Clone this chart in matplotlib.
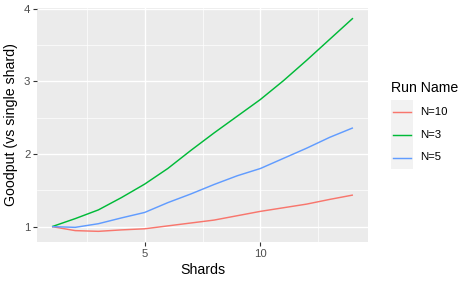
import matplotlib
matplotlib.use("Agg")
import matplotlib.pyplot as plt
from matplotlib.patches import Rectangle
from matplotlib.lines import Line2D

shards = [1, 2, 3, 4, 5, 6, 7, 8, 9, 10, 11, 12, 13, 14]
n10 = [1.0, 0.945, 0.935, 0.955, 0.97, 1.01, 1.05, 1.09, 1.15, 1.21, 1.26, 1.31, 1.375, 1.435]
n3 = [1.0, 1.11, 1.23, 1.40, 1.585, 1.80, 2.05, 2.29, 2.52, 2.75, 3.01, 3.29, 3.58, 3.87]
n5 = [1.0, 0.99, 1.04, 1.12, 1.195, 1.33, 1.45, 1.58, 1.70, 1.80, 1.94, 2.08, 2.23, 2.36]
series_names = ["N=10", "N=3", "N=5"]
series_vals = [n10, n3, n5]
colors = ["#F8766D", "#00BA38", "#619CFF"]
xticks = [5, 10]
yticks = [1, 2, 3, 4]

plt.rcParams['font.family'] = ['Liberation Sans', 'DejaVu Sans']

W, H = 474, 284
fig = plt.figure(figsize=(W / 100, H / 100), dpi=100)
ax = fig.add_axes([37 / W, 1 - 242 / H, (368 - 37) / W, (242 - 7.5) / H])
ax.set_facecolor("#EBEBEB")

xmin, xmax = min(shards), max(shards)
allv = n10 + n3 + n5
ymin, ymax = min(allv), max(allv)
xr = xmax - xmin
yr = ymax - ymin
ax.set_xlim(xmin - 0.05 * xr, xmax + 0.05 * xr)
ax.set_ylim(ymin - 0.05 * yr, ymax + 0.05 * yr)

for v in [2.5, 7.5, 12.5]:
    ax.axvline(v, color="white", lw=0.5, zorder=0.5)
for v in [1.5, 2.5, 3.5]:
    ax.axhline(v, color="white", lw=0.5, zorder=0.5)
for v in xticks:
    ax.axvline(v, color="white", lw=1.0, zorder=0.6)
for v in yticks:
    ax.axhline(v, color="white", lw=1.0, zorder=0.6)

for name, vals, c in zip(series_names, series_vals, colors):
    ax.plot(shards, vals, color=c, lw=1.05, zorder=2, solid_capstyle="butt")

ax.set_xticks(xticks)
ax.set_yticks(yticks)
ax.tick_params(axis="both", length=2.8, width=0.8, color="#333333",
               labelcolor="#4D4D4D", labelsize=8.2, pad=2)
for s in ax.spines.values():
    s.set_visible(False)

ax.set_xlabel("Shards", fontsize=10.2, color="black", labelpad=3)
ax.set_ylabel("Goodput (vs single shard)", fontsize=10.2, color="black", labelpad=4)

# Legend
fig.text(391 / W, 1 - 88 / H, "Run Name", fontsize=10.2, ha="left", va="center")
key_top = 100.5
key_h = 22.8
for i, (name, c) in enumerate(zip(series_names, colors)):
    y0 = key_top + i * key_h
    fig.patches.append(Rectangle((390.7 / W, 1 - (y0 + key_h) / H), 22 / W, key_h / H,
                                 transform=fig.transFigure, facecolor="#F2F2F2",
                                 edgecolor="none"))
    yc = y0 + key_h / 2
    fig.lines.append(Line2D([393 / W, 410.5 / W], [1 - yc / H, 1 - yc / H],
                            transform=fig.transFigure, color=c, lw=1.05))
    fig.text(420 / W, 1 - yc / H, name, fontsize=8.2, ha="left", va="center")

fig.savefig("out.png", dpi=100)
